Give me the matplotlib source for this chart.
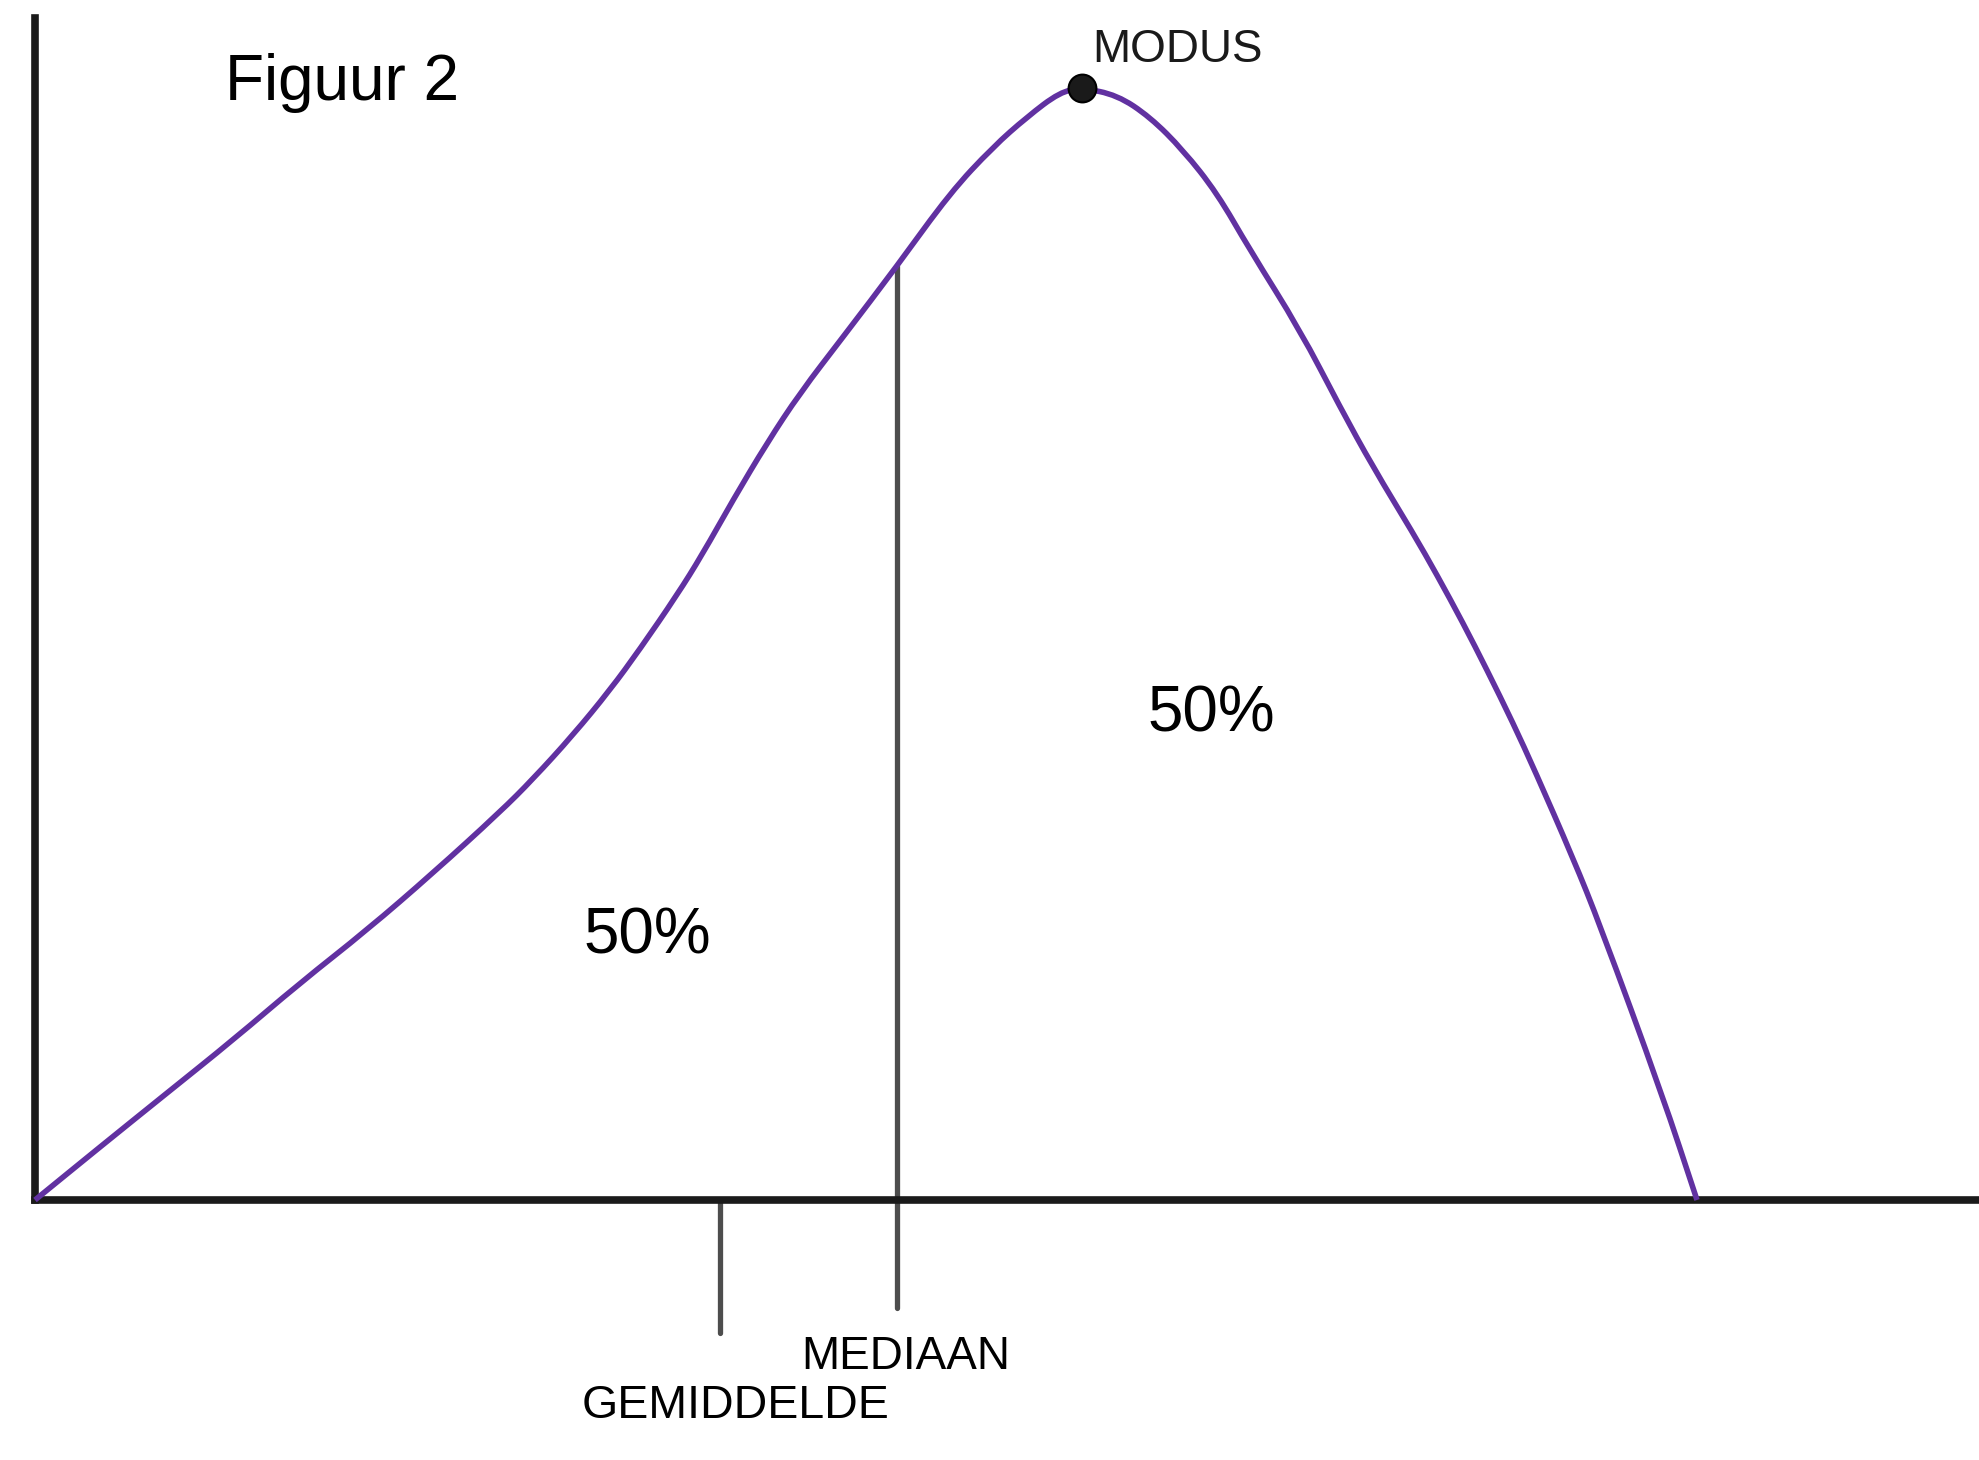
import numpy as np
import matplotlib.pyplot as plt
from matplotlib.path import Path
from matplotlib.patches import PathPatch

plt.rcParams['font.family'] = ['Liberation Sans', 'DejaVu Sans']

# curve (x along the axis, height above it)
curve_x = [0, 6.5, 13.2, 19.8, 26.5, 33.2, 39.8, 46.5, 49.8, 53.8, 57.5, 60.5,
           64.2, 66.7, 69.8, 73.2, 76.5, 80.8, 86.2, 91.5, 95.8, 99.2, 102.5,
           104.7, 108.2, 111.5, 114.8, 118.2, 121.5, 126.5, 130.5, 133.8, 137.8,
           140.2, 142.8, 145.2, 147.8, 150.0, 153.8, 156.5, 162.7, 166.2]
curve_y = [0, 5.3, 10.7, 16.0, 21.7, 27.0, 32.7, 38.8, 42.1, 46.5, 51.0, 55.1,
           60.5, 64.5, 70.0, 75.7, 80.7, 86.3, 93.4, 100.7, 105.3, 108.3, 110.8,
           111.2, 110.5, 108.3, 105.0, 100.7, 95.0, 87.0, 79.3, 73.3, 66.7,
           62.5, 57.7, 53.0, 47.7, 42.9, 34.2, 27.5, 10.6, 0]

modus_x, modus_y = 104.7, 111.2
mediaan_x = 86.2
gemiddelde_x = 68.5

fig = plt.figure(figsize=(19.79, 14.6), dpi=100)
ax = fig.add_axes([0, 0, 1, 1])
ax.set_xlim(-3.5, 194.4)
ax.set_ylim(-26, 120)

# axes as thick spines through the origin
for side in ['top', 'right']:
    ax.spines[side].set_visible(False)
ax.spines['left'].set_position(('data', 0))
ax.spines['bottom'].set_position(('data', 0))
ax.spines['left'].set_bounds(0, 118.2)
ax.spines['bottom'].set_bounds(0, 194.1)
for side in ['left', 'bottom']:
    ax.spines[side].set_linewidth(5.5)
    ax.spines[side].set_color('#1a1a1a')
    ax.spines[side].set_zorder(3)
ax.set_xticks([])
ax.set_yticks([])

# median and mean markers
med_top = np.interp(mediaan_x, curve_x, curve_y)
ax.plot([mediaan_x, mediaan_x], [-10.8, med_top], color='#4d4d4d', lw=3.8,
        solid_capstyle='round', zorder=2)
ax.plot([gemiddelde_x, gemiddelde_x], [-13.3, 0], color='#4d4d4d', lw=3.8,
        solid_capstyle='round', zorder=2)

# smooth drawing of the read points: quadratic bezier with the points as controls
pts = np.column_stack([curve_x, curve_y])
mids = (pts[:-1] + pts[1:]) / 2
verts = [pts[0], mids[0]]
codes = [Path.MOVETO, Path.LINETO]
for i in range(1, len(pts) - 1):
    verts += [pts[i], mids[i]]
    codes += [Path.CURVE3, Path.CURVE3]
verts.append(pts[-1])
codes.append(Path.LINETO)
ax.add_patch(PathPatch(Path(verts, codes), fill=False, edgecolor='#6131a1',
                       lw=4, joinstyle='round', zorder=4))
ax.plot([modus_x], [modus_y], 'o', ms=20, mfc='#1a1a1a', mec='black', mew=1.5, zorder=5)

ax.text(19.0, 110, 'Figuur 2', fontsize=46, va='baseline', ha='left')
ax.text(105.7, 113.8, 'MODUS', fontsize=33, va='baseline', ha='left', color='#1a1a1a')
ax.text(54.8, 24.6, '50%', fontsize=46, va='baseline', ha='left')
ax.text(111.2, 46.8, '50%', fontsize=46, va='baseline', ha='left')
ax.text(76.6, -16.9, 'MEDIAAN', fontsize=33, va='baseline', ha='left')
ax.text(54.7, -21.8, 'GEMIDDELDE', fontsize=33.5, va='baseline', ha='left')

fig.savefig('out.png', dpi=100, facecolor='white')
